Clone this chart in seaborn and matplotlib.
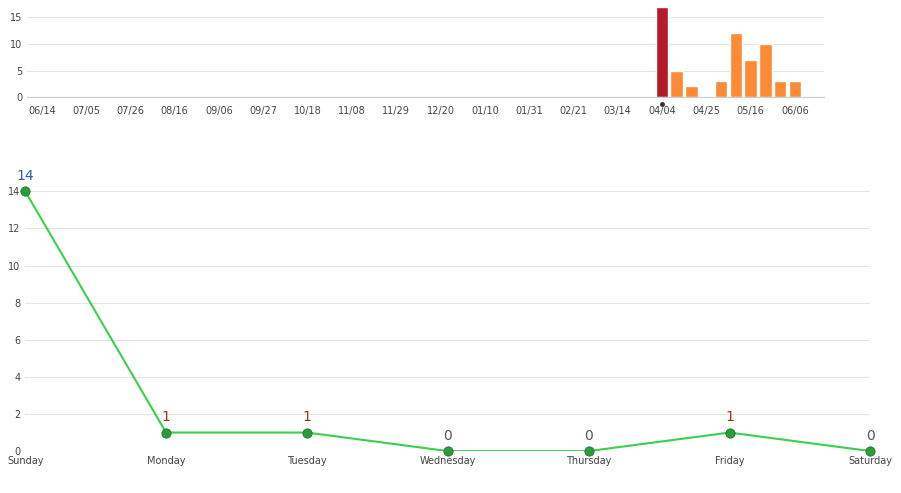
import matplotlib
matplotlib.use("Agg")
import matplotlib.pyplot as plt
import seaborn as sns
import pandas as pd
import numpy as np

# weekly counts, 06/14 .. 06/06 (52 weeks)
week_labels = pd.date_range("2020-06-14", periods=52, freq="7D").strftime("%m/%d").tolist()
week_counts = [0] * 42 + [17, 5, 2, 0, 3, 12, 7, 10, 3, 3]
highlight_week = "04/04"

days = ["Sunday", "Monday", "Tuesday", "Wednesday", "Thursday", "Friday", "Saturday"]
day_counts = [14, 1, 1, 0, 0, 1, 0]

sns.set_style("white")
plt.rcParams['font.family'] = ['Segoe UI', 'DejaVu Sans']
fig = plt.figure(figsize=(9.01, 4.93), dpi=100)

# top: weekly histogram
ax1 = fig.add_axes([0.030, 0.803, 0.885, 0.19])
dfw = pd.DataFrame({"week": week_labels, "count": week_counts})
pal = {w: ("#b31b2a" if w == highlight_week else "#fd8a35") for w in week_labels}
sns.barplot(data=dfw, x="week", y="count", hue="week", palette=pal, legend=False,
            width=0.85, ax=ax1, saturation=1)
ax1.set_ylim(0, 17.6)
ax1.set_yticks([0, 5, 10, 15])
ax1.set_xticks(range(0, 52, 3))
ax1.set_xticklabels(week_labels[::3])
ax1.set_xlim(-1, 53)
ax1.tick_params(labelsize=7, colors="#444444", length=3)
ax1.tick_params(axis="y", length=0)
ax1.grid(axis="y", color="#e4e4e4", lw=0.8)
ax1.set_axisbelow(True)
ax1.set_xlabel("")
ax1.set_ylabel("")
for s in ["top", "right", "left"]:
    ax1.spines[s].set_visible(False)
ax1.spines["bottom"].set_color("#cccccc")
ax1.plot([week_labels.index(highlight_week)], [-1.2], "o", color="#333333", ms=2.5, clip_on=False)

# bottom: day of week line
ax2 = fig.add_axes([0.028, 0.085, 0.938, 0.527])
dfd = pd.DataFrame({"day": days, "count": day_counts})
sns.lineplot(data=dfd, x="day", y="count", color="#3ccf4e", lw=1.5, sort=False, ax=ax2)
sns.scatterplot(data=dfd, x="day", y="count", color="#2a9d3a", edgecolor="#1b6e27",
                s=45, zorder=5, ax=ax2, clip_on=False)
for i, v in enumerate(day_counts):
    c = "#2f5d9e" if v > 1 else ("#8b3a1a" if v == 1 else "#555555")
    ax2.annotate(str(v), (i, v), xytext=(0, 6), textcoords="offset points",
                 ha="center", va="bottom", fontsize=10, color=c)
ax2.set_xlim(0, 6)
ax2.set_ylim(0, 14)
ax2.set_yticks(range(0, 15, 2))
ax2.tick_params(labelsize=7, colors="#444444", length=0)
ax2.grid(axis="y", color="#e4e4e4", lw=0.8)
ax2.set_xlabel("")
ax2.set_ylabel("")
for s in ["top", "right", "left", "bottom"]:
    ax2.spines[s].set_visible(False)

fig.savefig("out.png", dpi=100)
